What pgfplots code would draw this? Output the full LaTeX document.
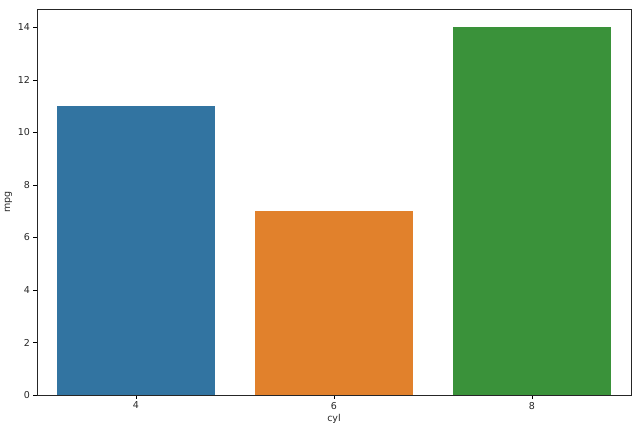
\documentclass[border=0pt]{standalone}
\usepackage{pgfplots}
\pgfplotsset{compat=1.18}
\usepackage{fontspec}
\setmainfont{DejaVu Sans}

\definecolor{sbblue}{HTML}{3274A1}
\definecolor{sborange}{HTML}{E1812C}
\definecolor{sbgreen}{HTML}{3A923A}

\begin{document}
\begin{tikzpicture}
\useasboundingbox (-37pt,-34pt) rectangle (603pt,395pt);
\begin{axis}[
    scale only axis,
    width=594pt, height=386pt,
    xmin=-0.5, xmax=2.5,
    ymin=0, ymax=14.7,
    xtick={0,1,2},
    xticklabels={4,6,8},
    ytick={0,2,...,14},
    xlabel={cyl}, ylabel={mpg},
    tick align=outside,
    tick pos=left,
    major tick length=3.5pt,
    tick style={black, line width=0.6pt},
    axis line style={line width=0.6pt, black!85},
    ticklabel style={font=\fontsize{9.5}{11}\selectfont, text=black!85},
    label style={font=\fontsize{9.5}{11}\selectfont, text=black!85},
    /pgf/number format/assume math mode=true,
    xlabel style={yshift=2pt},
    ylabel style={yshift=-1pt},
    ybar, bar width=0.8, bar shift=0pt,
]
\addplot[draw=none, fill=sbblue] coordinates {(0,11)};
\addplot[draw=none, fill=sborange] coordinates {(1,7)};
\addplot[draw=none, fill=sbgreen] coordinates {(2,14)};
\end{axis}
\end{tikzpicture}
\end{document}
